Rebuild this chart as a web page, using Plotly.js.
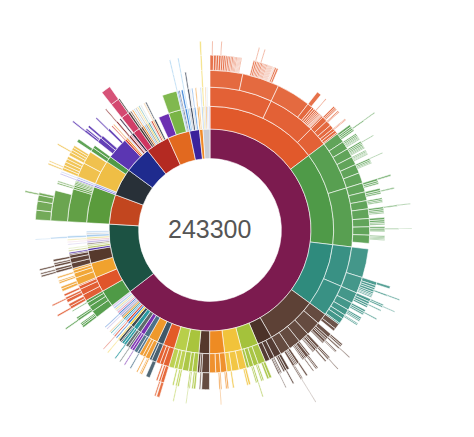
<!DOCTYPE html>
<html><head><meta charset="utf-8">
<script src="https://cdn.plot.ly/plotly-3.0.1.min.js"></script>
<style>html,body{margin:0;padding:0;background:#fff;}#chart{width:474px;height:437px;}</style>
</head><body><div id="chart"></div>
<script>
// Total shown in the centre
const centerTotal = 243300;

// Hierarchy values (in degree-like shares).
// A number is a leaf, an array is a node whose items are its children,
// a negative number is the parent's own share that is not split further.
const maroonParts = [
  [ [ [[-0.6,0.3,-0.3],0.9,0.8,[-0.5,0.3],0.7,0.7,0.6,0.6,0.5,0.5,0.5,0.4,0.4,0.4,0.3,0.3,0.3,0.3,0.3,-1.4],
      [-2.5,0.6,[0.3,-0.3],0.5,0.5,[-0.2,0.3],0.5,0.4,0.4,0.4,0.4,0.3,0.3,0.3,0.3,0.3,0.3,0.2,0.2,0.2,0.2,0.6,0.6,-2.4] ],
    [12.5,[1.5,-0.5],0.8,0.7,[0.3,-0.3],0.5,0.5,0.4,0.4,0.3,0.3,0.6],
    [[0.6,0.5,0.4,-0.5],[0.4,0.3,-1.3],1.5,[0.3,0.3,-0.4],1.0,0.5] ],
  [ [[0.8,0.6,[[0.3,-0.1],-0.2],0.5,-1.0],[0.5,0.5,0.4,0.4,0.3,0.3,-0.6],[[-0.3,0.3],0.5,0.5,0.4,0.4,0.3,-0.6],[0.4,0.4,0.3,0.3,0.3,-1.3],[[0.3,-0.3],0.5,0.4,0.3,-1.5],3.8],
    [[[0.5,-0.3],0.6,0.5,-1.4],[0.8,[0.4,-0.2],0.5,-1.3],[0.6,0.5,0.4,-1.5],[[[0.3,-0.1],-0.3],0.6,0.5,0.4,-1.3],[0.8,0.7,0.5,0.4,-0.6],[0.6,[[0.2,-0.1],-0.3],0.5,-1.3],[0.5,0.4,0.4,0.3,-1.4],-2.0] ],
  [ [10.5,[[0.8,-0.4],0.8,0.7,[[0.4,-0.1],-0.3],0.6,0.5,0.4,0.4,-0.5]],
    [[[0.5,[0.3,-0.2]],0.8,[0.4,-0.3],0.6,-0.9],[0.7,[0.4,-0.2],0.5,-1.0],[0.6,0.5,0.4,-0.7],[0.4,0.4,-0.7],2.0,0.5] ],
  [ [2.0,1.0,-1.5],
    [[0.6,0.5,-0.4],[[0.3,-0.2],-0.3],0.6,[0.4,0.3,-0.3],0.5,-1.6],
    [[0.5,[0.3,-0.2]],0.6,[0.5,-0.3],0.4,0.4,-1.3],
    [0.6,[0.5,0.4,-0.3],0.5,[0.4,-0.2],0.4,-1.5],
    [[0.6,-0.3],0.5,0.5,[0.4,[[0.2],-0.2]],-1.5] ],
  [[1.0,[0.5,-0.3],0.6,-0.6],[0.5,0.4,[0.3,-0.2],-0.6],2.0],
  [[1.0,0.8,-1.2],[0.6,0.5,-0.9],[[0.4,-0.2],0.5,-0.7],1.2],
  [[0.8,0.6,-1.6],3.0,[0.6,-1.4]],
  [[0.6,0.5,-1.4],[0.5,[0.3,-0.2],-1.0],2.5],
  [[2.8,-0.4],[0.5,-0.3],1.0],
  [[0.8,0.6,-0.6],[0.5,[0.3,-0.2],-0.5],2.5],
  [[0.7,[0.4,-0.2],-0.6],[0.6,-0.9],2.2],
  [[[1.0,-0.3],[0.5,-0.2],-0.4],[0.6,-0.8],1.6],
  [[1.5,-0.5],1.0],
  [[0.6,0.4,-0.8],[0.5,-0.7],1.5],
  [[0.5,-0.5],1.5],
  [[0.4,-0.6],1.0],
  [[0.4,-0.4],1.2],
  [[0.5,-0.5],1.0],
  [0.5,1.0],
  [[0.3,-0.2],-0.5],[0.5,-0.5],[[0.3,-0.2],-0.4],[0.4,-0.6],[0.4,-0.4],[0.3,-0.5],0.8,
  [0.4,-0.6],[0.4,-0.4],0.8,1.0,0.8,1.0,1.0
];
const maroonPartColors = ['#e1592b','#4f9a48','#2f8b7d','#5d4136','#4b3229','#a4c23b','#f1c33b','#ee8b23','#55382c','#a9c43d','#b8cf4a','#e35a27','#3f5868','#ef992b','#4c7189','#7b31b2','#5e6b6b','#2a9aa0','#3e4a50',
  '#f2cf3a','#3e86d6','#d9452e','#8ec4ec','#3aa0a0','#f09a2a','#9aa5ad','#c5b7e6','#5b8fd8','#ea9bb8','#d8dde8','#efe3a0','#bcd4ee','#dcd0f0'];

const darkGreenParts = [
  [[0.8,0.6,0.5,-1.1],[[0.5,-0.3],0.6,-0.8],1.7,[0.4,-0.7]],
  [[[0.6,-0.4],1.0,-0.6],[1.2,[0.5,-0.3],-0.5],[0.8,-0.6],0.5],
  [[1.0,0.8,-1.2],[0.7,0.5,-0.8],[0.6,-0.6],0.8],
  [[[0.6,-0.3],[0.5,-0.3],-0.5],[[0.6,-0.3],0.6,-0.5],[0.8,-0.5],0.5],
  [0.6,-0.4],
  [0.5,-0.5],[0.4,-0.4],0.8,[0.4,-0.6],[0.3,-0.5],[0.5,-0.5],[[[0.3,-0.3],-0.2],-0.4],0.8,0.8,
  -3.8
];
const darkGreenPartColors = ['#4f9a46','#e0552a','#f0a22e','#56392c','#4b2ba3','#b8c36a','#cfe0a0','#9a8f86','#c9bde8','#ebbfcf','#efe5a4','#a8cdee','#d5d8dc','#c3dbf2',null];

const rustParts = [
  [ [ [3.2,3.0,2.0,[0.5,-0.3],-2.0], -2.4 ], [0.5,-0.3],[0.4,-0.4],0.6,0.6,0.5,0.4 ]
];
const rustPartColors = ['#5a9b3c'];

const charcoalParts = [
  [[0.3,-0.2],-0.3], [[0.3,-0.2],-0.3],
  [[[0.5,-0.5],[0.4,-0.6],1.2,1.2,1.0,-0.5],[1.2,[0.5,-0.5],1.0,0.8,-1.2],-0.4],
  [[1.2,-0.4],1.2]
];
const charcoalPartColors = ['#7a68d8','#98a8e8','#efbe45','#4f9a45'];

const navyParts = [
  [-1.8,[[0.5,-0.3],0.6,-0.6],[0.8,-0.4],-3.0,[0.5,-0.4],-1.3],
  [0.4,-0.5],[0.4,-0.4],0.8,[[0.4,-0.2],-0.3],0.8,[0.6,-0.5]
];
const navyPartColors = ['#5b36b2','#d63a2e','#f0902e','#e2dcee','#8a2a2a','#e9a0b8','#3a2f4a'];

const redParts = [
  [[[3.2]]],
  [[0.5,-0.3],-0.2],[0.5,-0.4],[0.5,-0.3],[0.4,-0.4],[0.4,-0.4],[0.4,-0.3],[0.4,-0.4],[0.4,-0.3],0.8,[0.4,-0.4],[0.5,-0.3],
  -1.6
];
const redPartColors = ['#cf3560','#3f3330','#6b4a3a','#f09030','#9cc8e8','#a0a0a0','#f0d050','#5aa8a8','#d0d8e0','#d84a30','#f5c080','#2f3a48',null];

const orangeParts = [5.0,[6.0],[[[0.4]]],[0.5],[0.4,-0.1],-0.4];
const orangePartColors = ['#6c30b2','#79b446','#8cc4ec','#3b7fd0','#2d3a5e',null];

const indigoParts = [[0.8,-0.2],[[[0.4]],-0.4],0.8,[[0.5,-0.2],-0.2],[0.4,-0.4],[0.4,-0.3],-0.7];
const indigoPartColors = ['#3c84d8','#8cc6f0','#c8ccd8','#29364c','#dde0e8','#4a90e0',null];

const thinOrangeParts = [[0.5,-0.3],0.6,-0.6];
const thinOrangePartColors = ['#f3a13e','#f6b860',null];

const lightGrayParts = [[0.5,-0.3],[[[[0.5]]]],0.7,[0.3,-0.3],[0.4,-0.3],0.7];
const lightGrayPartColors = ['#b8d0ec','#f0d44a','#d8dbe2','#f2a040','#cbdcf0','#d9d2ee'];

const groupColors = ['#7c1b4f','#1c5243','#c2461f','#283038','#1f2b8e','#b42a22','#e2691f','#3b229b','#f08a28','#c9cdd6'];
const groupParts = [maroonParts,darkGreenParts,rustParts,charcoalParts,navyParts,redParts,orangeParts,indigoParts,thinOrangeParts,lightGrayParts];
const groupPartColors = [maroonPartColors,darkGreenPartColors,rustPartColors,charcoalPartColors,navyPartColors,redPartColors,orangePartColors,indigoPartColors,thinOrangePartColors,lightGrayPartColors];

// ---- layout of the partition ----
function total(n){ return typeof n === 'number' ? Math.abs(n) : n.reduce((s,c)=>s+total(c),0); }
const grand = groupParts.reduce((s,p)=>s+total(p),0);
const ringUnit = 71.4;
const ringEdge = d => ringUnit*Math.sqrt(d);

function tint(hex, depth){
  const f = Math.min(0.3, 0.05*Math.max(0, depth-2));
  const n = parseInt(hex.slice(1),16);
  const r=(n>>16)&255, g=(n>>8)&255, b=n&255;
  const m = v => Math.round(v + (255-v)*f);
  return 'rgb('+m(r)+','+m(g)+','+m(b)+')';
}

const theta=[], width=[], base=[], len=[], colors=[];
function addSeg(depth, start, span, color){
  theta.push((start+span/2)*360/grand);
  width.push(span*360/grand);
  base.push(ringEdge(depth));
  len.push(ringEdge(depth+1)-ringEdge(depth));
  colors.push(color);
}
function place(node, depth, start, color){
  if (typeof node === 'number'){ if (node > 0) addSeg(depth, start, node, tint(color, depth)); return; }
  addSeg(depth, start, total(node), tint(color, depth));
  let a = start;
  node.forEach(c => { place(c, depth+1, a, color); a += total(c); });
}
let pos = 0;
groupParts.forEach((parts, gi) => {
  const t = total(parts);
  addSeg(1, pos, t, groupColors[gi]);
  let b = pos;
  parts.forEach((p, pi) => { if (!(typeof p === 'number' && p < 0)) place(p, 2, b, groupPartColors[gi][pi]); b += total(p); });
  pos += t;
});

const W = 474, H = 437, cx = 210, cy = 230, R = 205;
const trace = {
  type: 'barpolar', theta: theta, width: width, base: base, r: len,
  marker: { color: colors, line: { color: '#ffffff', width: 0.6 } },
  hoverinfo: 'skip'
};
const layout = {
  width: W, height: H, margin: {l:0, r:0, t:0, b:0},
  paper_bgcolor: '#ffffff', showlegend: false,
  polar: {
    domain: { x: [(cx-R)/W, (cx+R)/W], y: [(H-cy-R)/H, (H-cy+R)/H] },
    bgcolor: 'rgba(0,0,0,0)', barmode: 'overlay', hole: 0,
    radialaxis: { visible: false, range: [0, R] },
    angularaxis: { visible: false, rotation: 90, direction: 'clockwise' }
  },
  annotations: [{
    text: String(centerTotal), x: 209/W, y: (H-229)/H, xref: 'paper', yref: 'paper',
    xanchor: 'center', yanchor: 'middle', showarrow: false,
    font: { size: 25, color: '#555555', family: 'Liberation Sans, Arial, Helvetica, sans-serif' }
  }]
};
Plotly.newPlot('chart', [trace], layout, {staticPlot: true, displayModeBar: false});
</script>
</body></html>
